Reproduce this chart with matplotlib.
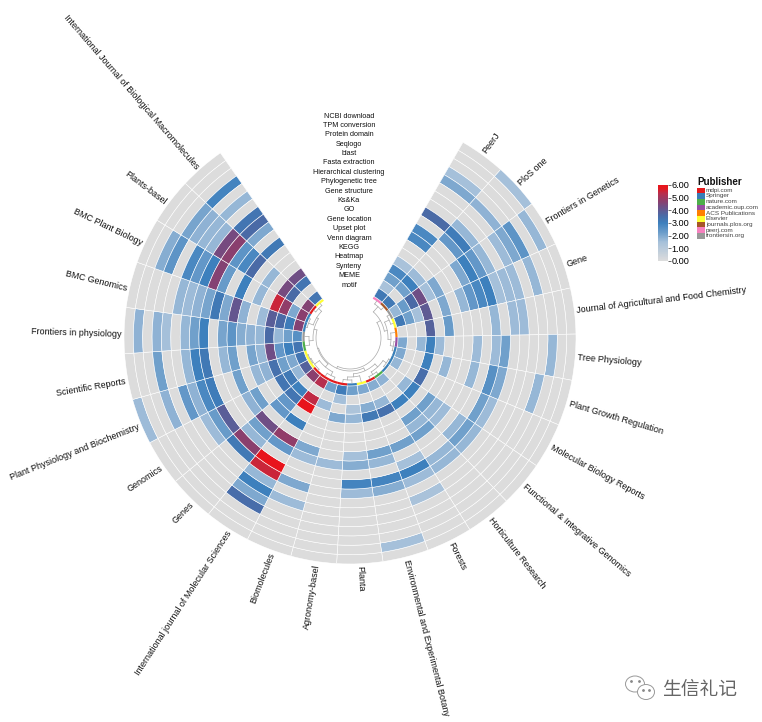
import numpy as np
import matplotlib
matplotlib.use("Agg")
import matplotlib.pyplot as plt
from matplotlib.colors import LinearSegmentedColormap, Normalize
from matplotlib.cm import ScalarMappable
from matplotlib.patches import Rectangle, Ellipse

plt.rcParams['font.family'] = ['Liberation Sans', 'DejaVu Sans']

journals = ["PeerJ", "PloS one", "Frontiers in Genetics", "Gene",
            "Journal of Agricultural and Food Chemistry", "Tree Physiology",
            "Plant Growth Regulation", "Molecular Biology Reports",
            "Functional & Integrative Genomics", "Horticulture Research", "Forests",
            "Environmental and Experimental Botany", "Planta", "Agronomy-basel",
            "Biomolecules", "International journal of Molecular Sciences", "Genes",
            "Genomics", "Plant Physiology and Biochemistry", "Scientific Reports",
            "Frontiers in physiology", "BMC Genomics", "BMC Plant Biology",
            "Plants-basel", "International Journal of Biological Macromolecules"]
tools = ["NCBI download", "TPM conversion", "Protein domain", "Seqlogo", "blast",
         "Fasta extraction", "Hierarchical clustering", "Phylogenetic tree",
         "Gene structure", "Ks&Ka", "GO", "Gene location", "Upset plot",
         "Venn diagram", "KEGG", "Heatmap", "Synteny", "MEME", "motif"]
# journal -> {ring index (0 = outer, NCBI download): value}
journal_cells = [
 {3:1.5,4:2,8:3.6,10:2.8,11:2.8,14:1.4,15:2.8,16:2.2,17:1.4,18:3.2},
 {0:1.5,4:1.8,7:1.7,8:3.1,9:2.4,14:1.6,15:3,16:2.2,18:3.2},
 {1:1.7,3:2.5,4:2,5:1.6,7:1.7,8:2.4,9:3,10:2,13:2,14:1.5,15:4.3,16:3.6,17:2.3,18:1.7},
 {3:1.7,5:1.6,6:1.6,7:1.5,8:3,9:2.8,10:2.4,11:1.7,13:2,15:4,16:1.5,17:2.2,18:3.2},
 {5:1.6,6:1.6,8:1.7,13:2.3,15:3.8},
 {2:1.7,7:2.2,8:1.6,10:1.6,14:1.6,15:3,16:1.7,18:2},
 {3:1.7,7:2,8:2.6,10:1.7,13:1.7,15:3,18:2},
 {7:1.6,8:2.2,15:3.5,18:1.7},
 {7:1.7,8:2.2,9:1.7,11:1.6,12:1.7,13:2.2,15:3,16:1.7},
 {7:1.7,8:1.7,11:2.2,12:1.7,13:2.2,15:3,18:1.8},
 {5:1.4,7:1.6,8:3,9:1.5,11:2.2,15:3.4,16:1.7,18:1.9},
 {1:1.5,7:1.9,8:2.9,10:1.7,11:2.2,15:3.2,16:1.9,18:2},
 {7:1.6,8:2.9,10:1.9,11:1.5,15:1.7,16:1.3,18:2.2},
 {10:1.6,15:2,17:1.5,18:3.1},
 {5:1.6,7:2,10:1.6,11:2,16:1.6,18:2.2},
 {3:3.5,4:2,5:3,6:1.7,7:5.5,8:6,10:2.4,11:4.8,13:3,15:6,16:5.4,18:5.3},
 {7:3.2,8:4.7,9:1.7,10:2.2,11:4.3,13:2.4,14:2.4,15:3.3,16:3,18:4.7},
 {6:1.6,7:2.3,8:3.9,11:1.8,12:2.2,15:3.3,16:3.2,17:1.7,18:3.8},
 {0:1.6,3:1.8,5:2.4,6:1.8,7:2.8,8:3.1,11:2.2,13:1.7,14:1.8,15:3.4,16:2.2,17:2,18:3.3},
 {3:2.2,6:1.7,7:3,8:3.2,10:1.7,11:2.2,13:2.1,14:1.7,15:4.3,16:2.4,17:3,18:3.3},
 {1:1.8,3:1.8,4:1.5,6:1.7,7:2.2,8:3,10:2.1,11:2.5,12:1.9,13:1.8,14:1.7,15:3.6,16:1.7,17:2.2,18:2.6},
 {5:1.7,6:1.6,7:1.8,8:2.1,9:3.2,10:2,11:4.1,12:1.8,14:1.6,15:3.9,16:3.6,17:3.1,18:4.6},
 {2:1.9,3:2.5,5:2.8,6:2.4,7:3,8:4.6,9:2.3,11:3,13:1.7,15:5.5,16:4.8,17:2,18:4.7},
 {3:2.1,4:1.8,5:1.7,6:1.7,7:4.4,8:4.7,9:2.5,10:2.8,11:3.6,13:1.7,15:4.4,16:3.6,18:4.6},
 {3:2.9,5:1.7,7:3.3,8:3.6,9:2,11:3.2,15:4.3,16:3.3,18:3.3},
]
publishers = ["mdpi.com", "Springer", "nature.com", "academic.oup.com", "ACS Publications",
              "Elsevier", "journals.plos.org", "peerj.com", "frontiersin.org"]
publisher_colors = ["#e41a1c", "#377eb8", "#4daf4a", "#984ea3", "#ff7f00",
                    "#ffff33", "#a65628", "#f781bf", "#999999"]
journal_publisher = [7, 6, 8, 5, 4, 3, 1, 1, 1, 2, 0, 5, 1, 0, 0, 0, 0, 5, 5, 2, 8, 1, 1, 0, 5]
# dendrogram: (merge radius, child, child); integers are journal leaves
tree = (31, (35, (42, 0, 1), (38, (43, 2, 3), (41, 4, (44, 5, 6)))),
        (33, (36, (40, (44, 7, 8), (43, 9, 10)), (39, 11, (42, 12, 13))),
         (34, (38, (42, 14, 15), (44, 16, (45, 17, 18))),
          (37, (41, 19, 20), (39, (44, 21, 22), (43, 23, 24))))))

matrix = np.zeros((len(journals), len(tools)))
for j, cells in enumerate(journal_cells):
    for ring, v in cells.items():
        matrix[j, ring] = v

stops = [(0, "#dcdcdc"), (1.5, "#a5c0da"), (2.2, "#6f9fcb"), (3, "#3d80bd"),
         (3.6, "#4a6aa6"), (4.3, "#6f4e85"), (4.7, "#8a3f6e"), (5.3, "#b43050"),
         (5.75, "#e4181f"), (6, "#e8141c")]
cmap = LinearSegmentedColormap.from_list("hm", [(v / 6, c) for v, c in stops])
norm = Normalize(0, 6)

W, H = 762, 722
cx, cy, R = 350, 338, 226
R_in = 48
fig = plt.figure(figsize=(W / 100, H / 100), dpi=100)
ax = fig.add_axes([(cx - R) / W, (H - cy - R) / H, 2 * R / W, 2 * R / H], projection='polar')
ax.set_theta_zero_location('N')
ax.set_theta_direction(-1)
ax.set_ylim(0, R)
ax.axis('off')

start = np.deg2rad(30.0)
dth = np.deg2rad(295.0 / len(journals))
dr = (R - R_in) / len(tools)
centers = start + dth * (np.arange(len(journals)) + .5)

for j, th in enumerate(centers):
    for k in range(len(tools)):
        ax.bar(th, dr, width=dth, bottom=R - dr * (k + 1), color=cmap(norm(matrix[j, k])),
               edgecolor='white', linewidth=0.4, align='center')
    ax.bar(th, 2.2, width=dth, bottom=R_in - 2.6, color=publisher_colors[journal_publisher[j]],
           linewidth=0)
    deg = np.rad2deg(th)
    if deg < 180:
        rot, ha, lab_th = 90 - deg, 'left', th
    else:
        rot, ha, lab_th = 270 - deg, 'right', th - np.deg2rad(1.1)
    ax.text(lab_th, R + 2.5, journals[j], rotation=rot, rotation_mode='anchor', ha=ha, va='center',
            fontsize=6.5, color='#111111', clip_on=False)


def draw(node):
    if isinstance(node, (int, np.integer)):
        return centers[node], R_in - 2.6
    r, a, b = node
    ta, ra = draw(a)
    tb, rb = draw(b)
    ax.plot([ta, ta], [ra, r], color='#a8a8a8', lw=.5)
    ax.plot([tb, tb], [rb, r], color='#a8a8a8', lw=.5)
    arc = np.linspace(ta, tb, 40)
    ax.plot(arc, np.full_like(arc, r), color='#a8a8a8', lw=.5)
    return (ta + tb) / 2, r


draw(tree)
ax.set_ylim(0, R)

overlay = fig.add_axes([0, 0, 1, 1])
overlay.set_xlim(0, W)
overlay.set_ylim(H, 0)
overlay.axis('off')
overlay.patch.set_alpha(0)

for i, t in enumerate(tools):
    overlay.text(349, 116 + i * 9.39, t, ha='center', va='center', fontsize=5.2, color='#111111')

cax = fig.add_axes([658 / W, (H - 261) / H, 10 / W, 76 / H])
cb = fig.colorbar(ScalarMappable(norm=norm, cmap=cmap), cax=cax, ticks=np.arange(0, 7))
cb.outline.set_visible(False)
cb.ax.set_yticklabels([f"{v:.2f}" for v in range(7)])
cb.ax.tick_params(length=2, width=.5, pad=.5, labelsize=6.6, color='#333333')

overlay.text(697, 182, "Publisher", fontsize=7, fontweight='bold', va='center', color='#111111')
for i, (p, c) in enumerate(zip(publishers, publisher_colors)):
    y = 187.5 + i * 5.7
    overlay.add_patch(Rectangle((697, y), 8, 5.7, facecolor=c, edgecolor='none'))
    overlay.text(706, y + 2.8, p, fontsize=4.6, va='center', color='#444444')

for (x, y, w, h) in [(635, 684, 19, 16), (646, 692, 17, 15)]:
    overlay.add_patch(Ellipse((x, y), w, h, facecolor='white', edgecolor='#999999', lw=.7))
for (x, y) in [(631, 681), (639, 681), (643, 690), (649, 690)]:
    overlay.plot([x], [y], 'o', ms=1, color='#888888')
overlay.text(662, 689, "生信礼记", fontsize=13.5, va='center', color='#666666',
             family=['Noto Sans CJK SC', 'DejaVu Sans'])

fig.savefig("out.png", dpi=100)
